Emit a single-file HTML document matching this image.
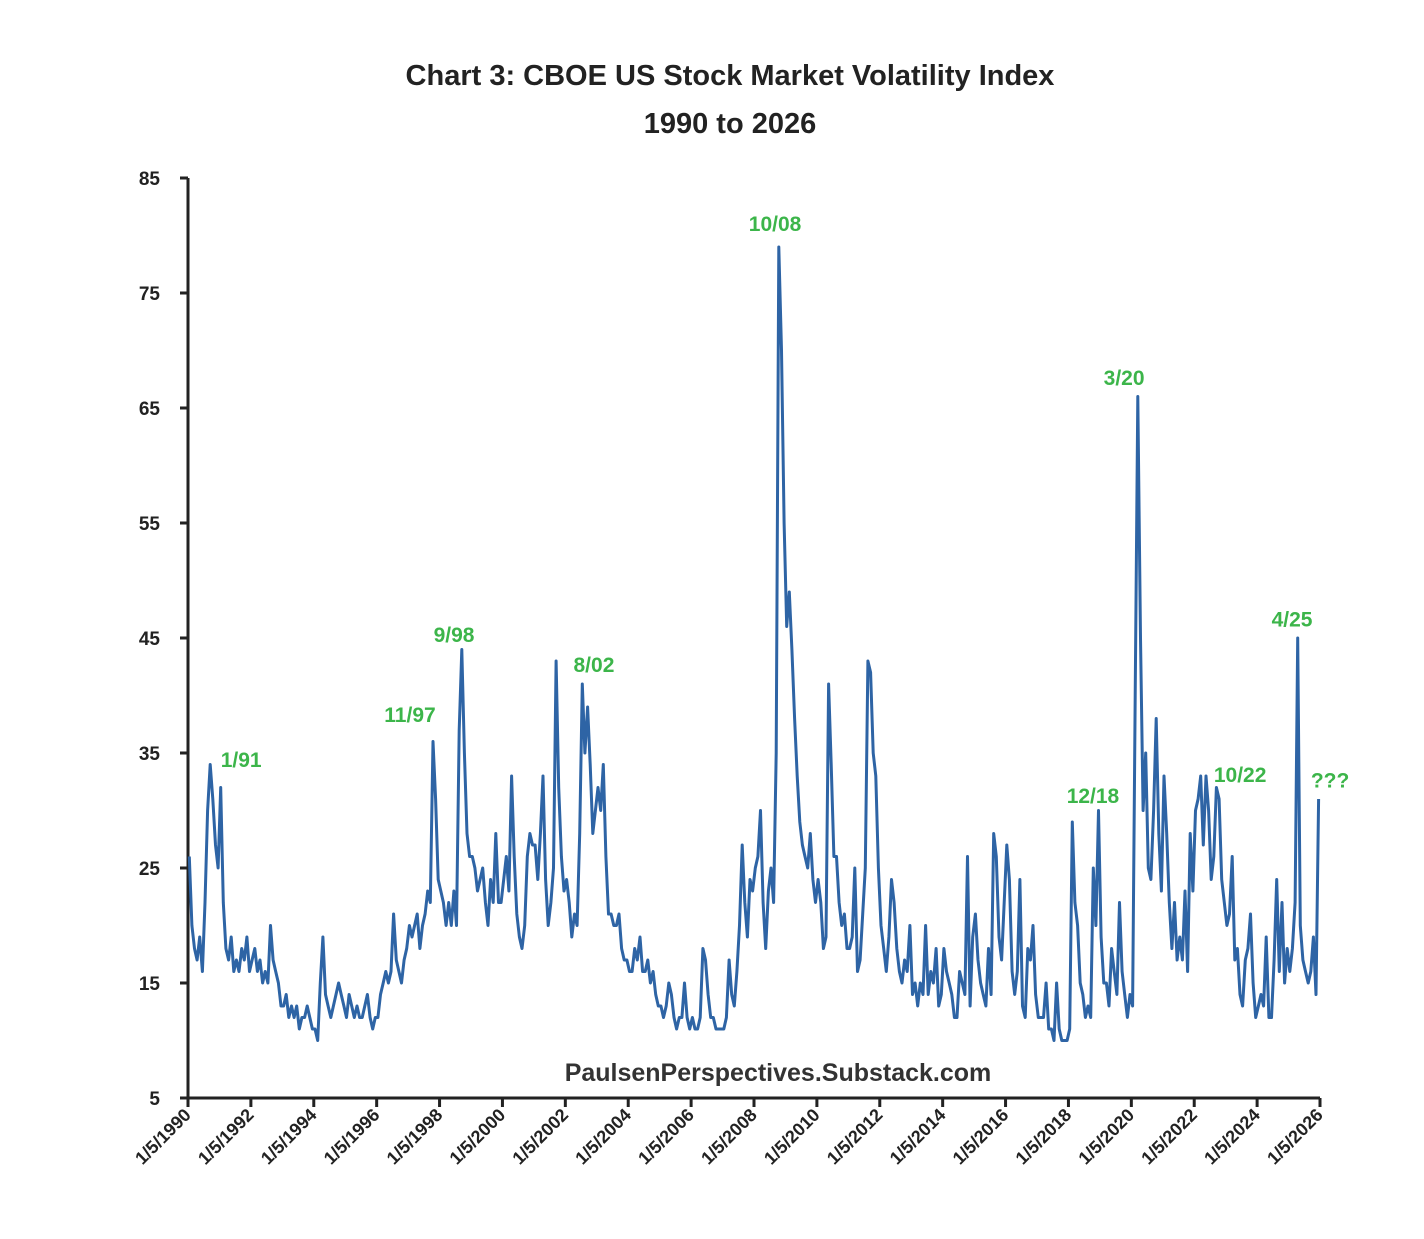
<!DOCTYPE html>
<html><head><meta charset="utf-8"><style>
body{margin:0;background:#fff;font-family:"Liberation Sans",sans-serif}
</style></head><body>
<svg id="chart" width="1424" height="1234" xmlns="http://www.w3.org/2000/svg">
<rect width="1424" height="1234" fill="#fff"/>
<text x="730" y="85" text-anchor="middle" font-size="29" font-weight="bold" fill="#222">Chart 3: CBOE US Stock Market Volatility Index</text>
<text x="730" y="133" text-anchor="middle" font-size="29" font-weight="bold" fill="#222">1990 to 2026</text>
<g id="axes"></g>
<g id="series"></g>
<g id="labels"></g>
<text x="778" y="1081" text-anchor="middle" font-size="25" font-weight="bold" fill="#333">PaulsenPerspectives.Substack.com</text>
</svg>
<script>
const startYear = 1990;
const yTicks = [5,15,25,35,45,55,65,75,85];
const xTickYears = [1990,1992,1994,1996,1998,2000,2002,2004,2006,2008,2010,2012,2014,2016,2018,2020,2022,2024,2026];
const vix = [
26,20,18,17,19,16,22,30,34,31,27,25,
32,22,18,17,19,16,17,16,18,17,19,16,
17,18,16,17,15,16,15,20,17,16,15,13,
13,14,12,13,12,13,11,12,12,13,12,11,
11,10,15,19,14,13,12,13,14,15,14,13,
12,14,13,12,13,12,12,13,14,12,11,12,
12,14,15,16,15,16,21,17,16,15,17,18,
20,19,20,21,18,20,21,23,22,36,31,24,
23,22,20,22,20,23,20,37,44,35,28,26,
26,25,23,24,25,22,20,24,22,28,22,22,
24,26,23,33,26,21,19,18,20,26,28,27,
27,24,28,33,24,20,22,25,43,32,26,23,
24,22,19,21,20,28,41,35,39,34,28,30,
32,30,34,26,21,21,20,20,21,18,17,17,
16,16,18,17,19,16,16,17,15,16,14,13,
13,12,13,15,14,12,11,12,12,15,12,11,
12,11,11,12,18,17,14,12,12,11,11,11,
11,12,17,14,13,16,20,27,22,19,24,23,
25,26,30,22,18,23,25,22,35,79,70,55,
46,49,44,38,33,29,27,26,25,28,24,22,
24,22,18,19,41,34,26,26,22,20,21,18,
18,19,25,16,17,21,25,43,42,35,33,25,
20,18,16,19,24,22,18,16,15,17,16,20,
14,15,13,15,14,20,14,16,15,18,13,14,
18,16,15,14,12,12,16,15,14,26,13,19,
21,17,15,14,13,18,14,28,26,19,17,22,
27,24,16,14,16,24,13,12,18,17,20,14,
12,12,12,15,11,11,10,15,11,10,10,10,
11,29,22,20,15,14,12,13,12,25,20,30,
19,15,15,13,18,16,14,22,16,14,12,14,
13,40,66,45,30,35,25,24,30,38,28,23,
33,28,22,18,22,17,19,17,23,16,28,23,
30,31,33,27,33,30,24,26,32,31,24,22,
20,21,26,17,18,14,13,17,18,21,15,12,
13,14,13,19,12,12,17,24,16,22,15,18,
16,18,22,45,20,17,16,15,16,19,14,31
];
const annotations = ["1/91","11/97","9/98","8/02","10/08","3/20","12/18","10/22","4/25","???"];
const annYears = [1991.69,1997.06,1998.46,2002.91,2008.67,2019.77,2018.78,2023.46,2025.11,2026.32];
const annValues = [33.8,37.7,44.65,42.04,80.4,67.0,30.65,32.5,46.0,32.0];

const NS="http://www.w3.org/2000/svg";
const x0=188,x1=1320,y0=1098,y1=178;
const xs=yr=>x0+(yr-1990)*(x1-x0)/36;
const ys=v=>y0-(v-5)*(y0-y1)/80;
function mk(tag,attrs,parent){const e=document.createElementNS(NS,tag);for(const k in attrs)e.setAttribute(k,attrs[k]);parent.appendChild(e);return e;}
const axes=document.getElementById('axes');
let a=mk('line',{x1:x0,y1:y0,x2:x0,y2:y1,stroke:'#222','stroke-width':3},axes);

a=mk('line',{x1:x0,y1:y0,x2:x1,y2:y0,stroke:'#222','stroke-width':3},axes);

yTicks.forEach(v=>{
 const t=mk('line',{x1:x0-8,y1:ys(v),x2:x0,y2:ys(v),stroke:'#222','stroke-width':3},axes);
 
 const l=mk('text',{x:x0-28,y:ys(v)+7,'text-anchor':'end','font-size':19,'font-weight':'bold',fill:'#222'},axes);
 l.textContent=v;
 
});
xTickYears.forEach(yr=>{
 const X=xs(yr);
 const t=mk('line',{x1:X,y1:y0,x2:X,y2:y0+9,stroke:'#222','stroke-width':3},axes);
 
 const l=mk('text',{x:X+4,y:y0+18,'text-anchor':'end','font-size':18,'font-weight':'bold',fill:'#222',transform:`rotate(-45 ${X+4} ${y0+18})`},axes);
 l.textContent='1/5/'+yr;
 
});
const pts=vix.map((v,i)=>xs(startYear+i/12+0.04).toFixed(1)+','+ys(v).toFixed(1)).join(' ');
const line=mk('polyline',{points:pts,fill:'none',stroke:'#2e64a5','stroke-width':3,'stroke-linejoin':'round'},document.getElementById('series'));

const lab=document.getElementById('labels');
annotations.forEach((s,i)=>{
 const t=mk('text',{x:xs(annYears[i]),y:ys(annValues[i]),'text-anchor':'middle','font-size':21,'font-weight':'bold',fill:'#3cb54a'},lab);
 t.textContent=s;
 
});
</script>
</body></html>
